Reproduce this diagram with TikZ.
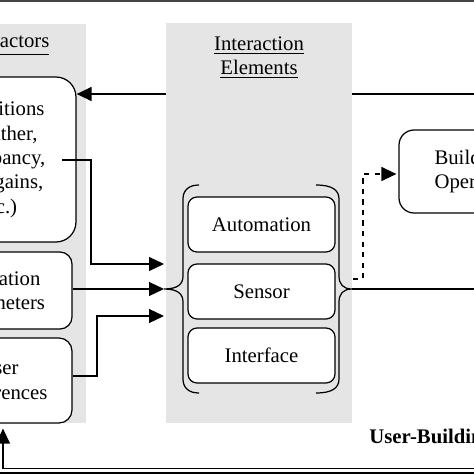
\documentclass[tikz,border=0pt]{standalone}
\usepackage{fontspec}
\setmainfont{Liberation Serif}
\usetikzlibrary{arrows.meta}
\definecolor{colgray}{RGB}{229,229,229}
\definecolor{framegray}{RGB}{68,68,68}
\begin{document}
\begin{tikzpicture}[x=0.02cm,y=-0.02cm,
  every node/.style={font=\fontsize{11.8}{13.9}\selectfont},
  box/.style={draw, fill=white, line width=0.7pt, align=center, inner sep=0pt},
  ln/.style={line width=0.7pt},
  arr/.style={line width=0.7pt, -{Triangle[length=0.3cm,width=0.28cm]}},
]
\useasboundingbox (0,0) rectangle (474,474);
\clip (0,0) rectangle (474,474);

% left column background
\fill[colgray] (-100,24) rectangle (86,423);
\node (t1) at (-1,45) {\underline{Key Factors}};

% left boxes
\node[box, rounded corners=0.4cm, minimum width=3.08cm, minimum height=3.3cm] (c1) at (-1,159.5)
  {Conditions\\(weather,\\occupancy,\\heat gains,\\etc.)};
\node[box, rounded corners=0.24cm, minimum width=2.92cm, minimum height=1.54cm] (c2) at (-1,290.5)
  {Operation\\Parameters};
\node[box, rounded corners=0.26cm, minimum width=2.92cm, minimum height=1.7cm] (c3) at (-1,380.5)
  {User\\Preferences};

% right box
\node[box, rounded corners=0.3cm, minimum width=3.08cm, minimum height=1.66cm, align=left] (rb) at (476,171.5)
  {Building\\Operation};

% top feedback line (drawn before middle column, which hides part of it)
\coordinate (fbtop) at (490,94);
\draw[arr] (fbtop) -- (c1.east |- fbtop);

% middle column background
\fill[colgray] (166,23) rectangle (352,423);
\node[align=center] (t2) at (259,57.5) {\underline{Interaction}\\\underline{Elements}};

% middle boxes
\node[box, rounded corners=0.18cm, minimum width=2.94cm, minimum height=1.1cm] (m1) at (261.5,224.5) {Automation};
\node[box, rounded corners=0.18cm, minimum width=2.94cm, minimum height=1.1cm] (m2) at (261.5,291.5) {Sensor};
\node[box, rounded corners=0.18cm, minimum width=2.94cm, minimum height=1.1cm] (m3) at (261.5,355.5) {Interface};

% braces
\coordinate (lbt) at (164,289);
\coordinate (rbt) at (352,289);
\draw[ln] (199,185) .. controls (189,185) and (183,190) .. (183,199)
  -- (183,276) .. controls (183,284) and (178,289) .. (lbt)
  .. controls (178,289) and (183,294) .. (183,302)
  -- (183,379) .. controls (183,388) and (189,393) .. (199,393);
\draw[ln] (316,185) .. controls (332,185) and (339,190) .. (339,199)
  -- (339,276) .. controls (339,284) and (343,289) .. (rbt)
  .. controls (343,289) and (339,294) .. (339,302)
  -- (339,379) .. controls (339,388) and (332,393) .. (316,393);

% connectors from left boxes into the left brace
\coordinate (s1) at (62,160);
\coordinate (k1) at (91,264);
\draw[arr] (s1) -| (k1) -- (k1 -| lbt);
\draw[arr] (c2.east |- lbt) -- (lbt);
\coordinate (k3) at (97,316);
\draw[arr] ([yshift=0.09cm]c3.east) -| (k3) -- (k3 -| lbt);

% from right brace
\coordinate (outr) at (490,289);
\draw[ln] (rbt) -- (outr);
\coordinate (ds) at (353,279);
\coordinate (dj) at (363,174);
\draw[arr, dashed] (ds) -| (dj) -- ([xshift=-0.04cm]dj -| rb.west);

% bottom feedback line
\coordinate (fbbr) at (490,468.5);
\coordinate (fbbl) at (3,468.5);
\draw[arr, shorten >=0.1cm] (fbbr) -- (fbbl) -- (fbbl |- c3.south);

\node[anchor=base west, inner sep=0pt, font=\fontsize{11.8}{13.9}\selectfont\bfseries] (title) at (369,443) {User-Building Interaction};

% frame
\fill[framegray] (0,0) rectangle (474,2.4);
\fill[black] (0,471.6) rectangle (474,474);
\end{tikzpicture}
\end{document}
